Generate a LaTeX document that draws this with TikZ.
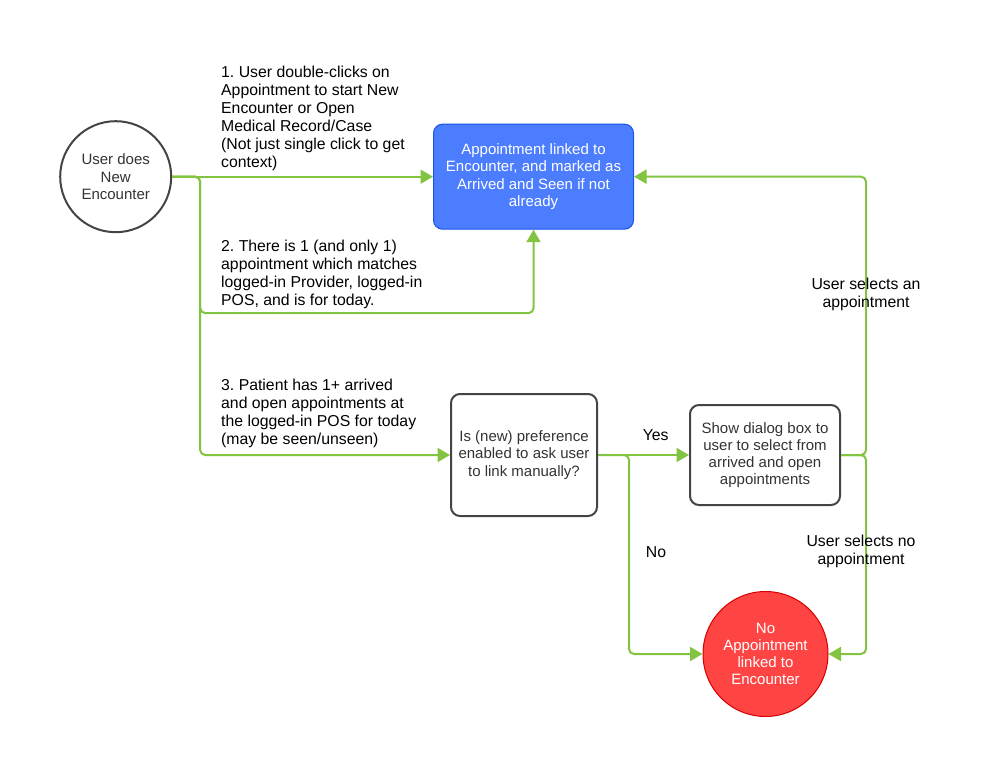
\documentclass[tikz,border=0pt]{standalone}
\usepackage{fontspec}
\setmainfont{Liberation Sans}
\usepackage{tikz}
\usetikzlibrary{arrows.meta,positioning}

\definecolor{flowgreen}{RGB}{130,195,65}
\definecolor{boxgray}{RGB}{68,68,68}
\definecolor{txtgray}{RGB}{51,51,51}
\definecolor{linkblue}{RGB}{76,125,255}
\definecolor{linkblueline}{RGB}{20,85,230}
\definecolor{nored}{RGB}{255,68,68}
\definecolor{noredline}{RGB}{215,0,0}
\newcommand{\boxfont}{\fontsize{15}{17.2}\selectfont\frenchspacing}
\newcommand{\lblfont}{\fontsize{15.8}{18}\selectfont\frenchspacing}

\begin{document}
\begin{tikzpicture}[x=1pt,y=-1pt,
 startnode/.style={circle,draw=boxgray,line width=2pt,minimum size=111pt,inner sep=0pt,align=center,text=txtgray,font=\boxfont},
 linked/.style={rectangle,rounded corners=9pt,draw=linkblueline,line width=1pt,fill=linkblue,text=white,align=center,font=\boxfont,minimum width=200pt,minimum height=105pt},
 plain/.style={rectangle,rounded corners=9pt,draw=boxgray,line width=2pt,fill=white,text=txtgray,align=center,font=\boxfont},
 nolink/.style={circle,draw=noredline,line width=1pt,fill=nored,text=white,minimum size=125pt,inner sep=0pt,align=center,font=\boxfont},
 note/.style={inner sep=0pt,align=left,font=\lblfont},
 cnote/.style={inner sep=0pt,align=center,font=\lblfont},
 edge/.style={draw=flowgreen,line width=2pt,rounded corners=5pt,-{Triangle[length=12.5pt,width=14pt]}}]

\useasboundingbox (0,0) rectangle (982,775);

\node (start)[startnode] at (115.7,176.7) {User does\\New\\Encounter};
\node (linked)[linked] at (533.5,176.7) {Appointment linked to\\Encounter, and marked as\\Arrived and Seen if not\\already};
\node (ask)[plain,minimum width=146pt,minimum height=122pt] at (524,455) {Is (new) preference\\enabled to ask user\\to link manually?};
\node (dialog)[plain,minimum width=150pt,minimum height=100pt] at (765,455) {Show dialog box to\\user to select from\\arrived and open\\appointments};
\node (nolink)[nolink] at (765.5,654) {No\\Appointment\\linked to\\Encounter};

\node (note1)[note,anchor=north west] at (221,66) {1. User double-clicks on\\Appointment to start New\\Encounter or Open\\Medical Record/Case\\(Not just single click to get\\context)};
\node (note2)[note,anchor=north west] at (221,240) {2. There is 1 (and only 1)\\appointment which matches\\logged-in Provider, logged-in\\POS, and is for today.};
\node (note3)[note,anchor=north west] at (221,379.3) {3. Patient has 1+ arrived\\and open appointments at\\the logged-in POS for today\\(may be seen/unseen)};

\draw [edge] (start.east) -- (linked.west);
\draw [edge] (start.east) -- ++(28,0) |- ([yshift=-83.4pt]linked.south) -- (linked.south);
\draw [edge] (start.east) -- ++(28,0) |- (ask.west);

\draw [edge] (ask.east) -- node (yes)[cnote,pos=0.634,above=13.4pt]{Yes} (dialog.west);
\draw [edge] (ask.east) -- ++(31,0) |- node (no)[cnote,pos=0.243,right=15.9pt]{No} (nolink.west);
\draw [edge] (dialog.east) -- ++(25,0) |- node (pick)[cnote,pos=0.289]{User selects an\\appointment} (linked.east);
\draw [edge] (dialog.east) -- ++(25,0) |- node (nopick)[cnote,pos=0.241,xshift=-5pt]{User selects no\\appointment} (nolink.east);
\end{tikzpicture}
\end{document}
